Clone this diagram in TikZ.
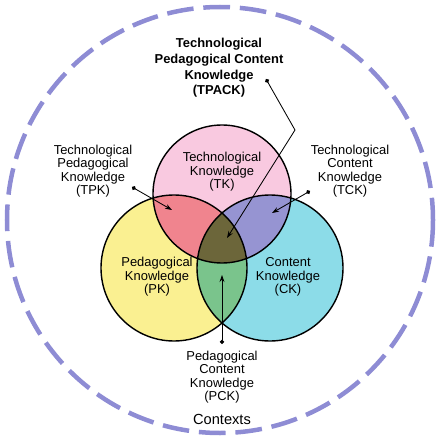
\documentclass[tikz,border=0pt]{standalone}
\usepackage{fontspec}
\setmainfont{Liberation Sans}
\usetikzlibrary{positioning,arrows.meta}

\definecolor{tkpink}{RGB}{249,201,224}
\definecolor{pkyellow}{RGB}{250,240,145}
\definecolor{ckblue}{RGB}{140,220,232}
\definecolor{tpkred}{RGB}{240,132,142}
\definecolor{tckpurple}{RGB}{150,148,210}
\definecolor{pckgreen}{RGB}{122,196,140}
\definecolor{tpackolive}{RGB}{108,102,58}
\definecolor{ctxblue}{RGB}{142,140,212}

\begin{document}
\begin{tikzpicture}[x=0.025cm, y=-0.025cm,
    venntext/.style = {align=center, inner sep=0pt, font=\fontsize{9.2}{9.6}\selectfont},
    pointer/.style = {{Circle[length=3pt]}-{Stealth[length=5pt,width=3.5pt]}, line width=0.6pt}]
  \useasboundingbox (0,0) rectangle (440,440);

  % contexts ring
  \draw[ctxblue, line width=3.2pt, dash pattern=on 19pt off 7pt] (220,220) circle (213);

  \coordinate (tk) at (222,194);
  \coordinate (pk) at (174,268);
  \coordinate (ck) at (270,268);

  \fill[pkyellow] (pk) circle (73);
  \fill[ckblue] (ck) circle (73);
  \fill[tkpink] (tk) circle (69);
  \begin{scope}
    \clip (pk) circle (73);
    \fill[pckgreen] (ck) circle (73);
  \end{scope}
  \begin{scope}
    \clip (tk) circle (69);
    \fill[tpkred] (pk) circle (73);
    \fill[tckpurple] (ck) circle (73);
    \clip (pk) circle (73);
    \fill[tpackolive] (ck) circle (73);
  \end{scope}
  \draw[line width=1pt] (tk) circle (69) (pk) circle (73) (ck) circle (73);

  \node (tklabel) [venntext] at (222,172) {Technological\\Knowledge\\(TK)};
  \node (pklabel) [venntext] at (157,277) {Pedagogical\\Knowledge\\(PK)};
  \node (cklabel) [venntext] at (288,277) {Content\\Knowledge\\(CK)};

  \node (tpklabel) [venntext] at (93,171) {Technological\\Pedagogical\\Knowledge\\(TPK)};
  \node (tcklabel) [venntext] at (350,171) {Technological\\Content\\Knowledge\\(TCK)};
  \node (pcklabel) [venntext] at (222,377) {Pedagogical\\Content\\Knowledge\\(PCK)};
  \node (tpacklabel) [venntext, font=\fontsize{9.2}{11.2}\selectfont\bfseries] at (219,68)
    {Technological\\Pedagogical Content\\Knowledge\\(TPACK)};
  \node (contexts) [font=\fontsize{10.4}{12}\selectfont] at (222,419) {Contexts};

  \coordinate (tpkdot) at (132,187);
  \coordinate (tpktip) at (172,210);
  \coordinate (tckdot) at (310,191);
  \coordinate (tcktip) at (272,213);
  \coordinate (pckdot) at (222,344);
  \coordinate (pcktip) at (222,275);
  \coordinate (tpackdot) at (266,79);
  \coordinate (tpackbend) at (295,130);
  \coordinate (tpacktip) at (227,238);

  \draw[pointer] (tpkdot) -- (tpktip);
  \draw[pointer] (tckdot) -- (tcktip);
  \draw[pointer] (pckdot) -- (pcktip);
  \draw[pointer] (tpackdot) -- (tpackbend) -- (tpacktip);
\end{tikzpicture}
\end{document}
